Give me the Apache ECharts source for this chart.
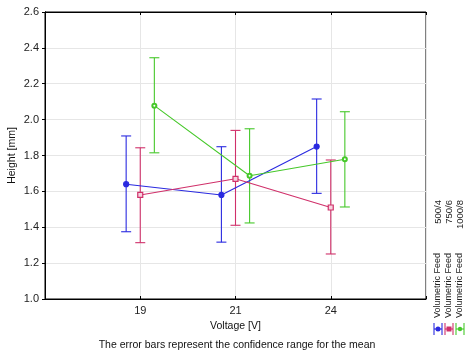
<!DOCTYPE html>
<html><head><meta charset="utf-8">
<script src="https://cdn.jsdelivr.net/npm/echarts@6/dist/echarts.min.js"></script>
<style>html,body{margin:0;padding:0;background:#fff}#c{width:474px;height:355px}</style>
</head><body><div id="c"></div>
<script>
const xLabels = ['19', '21', '24'];
const seriesNames = ['Volumetric Feed 500/4', 'Volumetric Feed 750/6', 'Volumetric Feed 1000/8'];
const legendPrefix = 'Volumetric Feed';
const legendValues = ['500/4', '750/6', '1000/8'];
const meanBlue = [1.64, 1.58, 1.85];
const lowBlue = [1.375, 1.317, 1.589];
const highBlue = [1.909, 1.849, 2.115];
const meanRed = [1.58, 1.67, 1.51];
const lowRed = [1.314, 1.411, 1.251];
const highRed = [1.843, 1.940, 1.775];
const meanGreen = [2.078, 1.687, 1.779];
const lowGreen = [1.815, 1.424, 1.513];
const highGreen = [2.345, 1.949, 2.044];

const colors = ['#2a2ae0', '#d0306a', '#46c82a'];
const symbols = ['circle', 'rect', 'emptyCircle'];
const offsets = [-0.148, 0, 0.148];
const means = [meanBlue, meanRed, meanGreen];
const lows = [lowBlue, lowRed, lowGreen];
const highs = [highBlue, highRed, highGreen];
const FONT = 'Liberation Sans';

const chart = echarts.init(document.getElementById('c'), null, {renderer: 'canvas'});
const series = [];
for (let s = 0; s < 3; s++) {
  const pts = means[s].map((v, i) => [i + 1 + offsets[s], v]);
  const bars = means[s].map((v, i) => [i + 1 + offsets[s], lows[s][i], highs[s][i]]);
  series.push({
    type: 'custom', name: seriesNames[s] + ' err', z: 2,
    renderItem: function (params, api) {
      const x = api.value(0);
      const lo = api.coord([x, api.value(1)]);
      const hi = api.coord([x, api.value(2)]);
      const w = 5;
      const st = {stroke: colors[s], lineWidth: 1.1};
      return {type: 'group', children: [
        {type: 'line', shape: {x1: lo[0], y1: lo[1], x2: hi[0], y2: hi[1]}, style: st},
        {type: 'line', shape: {x1: lo[0] - w, y1: lo[1], x2: lo[0] + w, y2: lo[1]}, style: st},
        {type: 'line', shape: {x1: hi[0] - w, y1: hi[1], x2: hi[0] + w, y2: hi[1]}, style: st}
      ]};
    },
    encode: {x: 0, y: [1, 2]},
    data: bars
  });
  series.push({
    type: 'line', name: seriesNames[s], z: 3,
    data: pts, symbol: symbols[s], symbolSize: s === 2 ? 4 : 5,
    lineStyle: {color: colors[s], width: 1.1},
    itemStyle: {color: s === 1 ? '#f6d3df' : colors[s], borderColor: colors[s], borderWidth: 1.2},
    animation: false
  });
}

// legend graphics
const graphics = [];
const colX = [438, 449, 460];
for (let s = 0; s < 3; s++) {
  graphics.push({
    type: 'text', x: colX[s] - 5, y: 318, rotation: Math.PI / 2,
    style: {text: legendPrefix, font: '9px "' + FONT + '"', fill: '#222', textAlign: 'left', textVerticalAlign: 'top'}
  });
  graphics.push({
    type: 'text', x: colX[s] - 5, y: 200, rotation: Math.PI / 2,
    style: {text: legendValues[s], font: '9.5px "' + FONT + '"', fill: '#222', textAlign: 'right', textVerticalAlign: 'top'}
  });
  const cx = colX[s], cy = 329;
  graphics.push({type: 'line', shape: {x1: cx - 4, y1: cy, x2: cx + 4, y2: cy}, style: {stroke: colors[s], lineWidth: 1.1}});
  graphics.push({type: 'line', shape: {x1: cx - 4, y1: cy - 6, x2: cx - 4, y2: cy + 6}, style: {stroke: colors[s], lineWidth: 1.1}});
  graphics.push({type: 'line', shape: {x1: cx + 4, y1: cy - 6, x2: cx + 4, y2: cy + 6}, style: {stroke: colors[s], lineWidth: 1.1}});
  if (s === 0) graphics.push({type: 'circle', shape: {cx: cx, cy: cy, r: 2.5}, style: {fill: colors[s]}});
  else if (s === 1) graphics.push({type: 'rect', shape: {x: cx - 2.5, y: cy - 2.5, width: 5, height: 5}, style: {fill: colors[s]}});
  else graphics.push({type: 'circle', shape: {cx: cx, cy: cy, r: 2.2}, style: {fill: colors[s]}});
}
graphics.push({
  type: 'text', left: 'center', top: 340,
  style: {text: 'The error bars represent the confidence range for the mean', font: '10.5px "' + FONT + '"', fill: '#111'}
});

chart.setOption({
  animation: false,
  backgroundColor: '#fff',
  textStyle: {fontFamily: FONT},
  grid: {left: 45, right: 48, top: 12, bottom: 56, show: true, borderColor: '#000', borderWidth: 1, containLabel: false, outerBoundsMode: 'none'},
  xAxis: [{
    type: 'value', min: 0, max: 4, interval: 1,
    name: 'Voltage [V]', nameLocation: 'middle', nameGap: 22, nameMoveOverlap: false,
    nameTextStyle: {fontSize: 10.5, color: '#111', fontFamily: FONT},
    axisLine: {lineStyle: {color: '#000'}},
    axisTick: {inside: true, length: 3, lineStyle: {color: '#000'}},
    axisLabel: {fontSize: 11, color: '#222', margin: 6, formatter: v => (v >= 1 && v <= 3) ? xLabels[v - 1] : ''},
    splitLine: {show: true, lineStyle: {color: '#e6e6e6'}}
  }, {
    type: 'value', min: 0, max: 4, interval: 1, position: 'top',
    axisLine: {lineStyle: {color: '#000'}},
    axisTick: {inside: true, length: 3, lineStyle: {color: '#000'}},
    axisLabel: {show: false}, splitLine: {show: false}
  }],
  yAxis: [{
    type: 'value', min: 1.0, max: 2.6, interval: 0.2,
    name: 'Height [mm]', nameLocation: 'middle', nameGap: 27, nameMoveOverlap: false,
    nameTextStyle: {fontSize: 10.5, color: '#111', fontFamily: FONT},
    axisLine: {lineStyle: {color: '#000'}},
    axisTick: {show: false},
    axisLabel: {fontSize: 11, color: '#222', margin: 6, formatter: v => v.toFixed(1)},
    splitLine: {show: true, lineStyle: {color: '#e6e6e6'}}
  }, {
    type: 'value', min: 1.0, max: 2.6, interval: 0.2, position: 'right',
    axisLine: {lineStyle: {color: '#000'}},
    axisTick: {inside: true, length: 3, lineStyle: {color: '#000'}},
    axisLabel: {show: false}, splitLine: {show: false}
  }],
  series: series,
  graphic: graphics
});
</script></body></html>
